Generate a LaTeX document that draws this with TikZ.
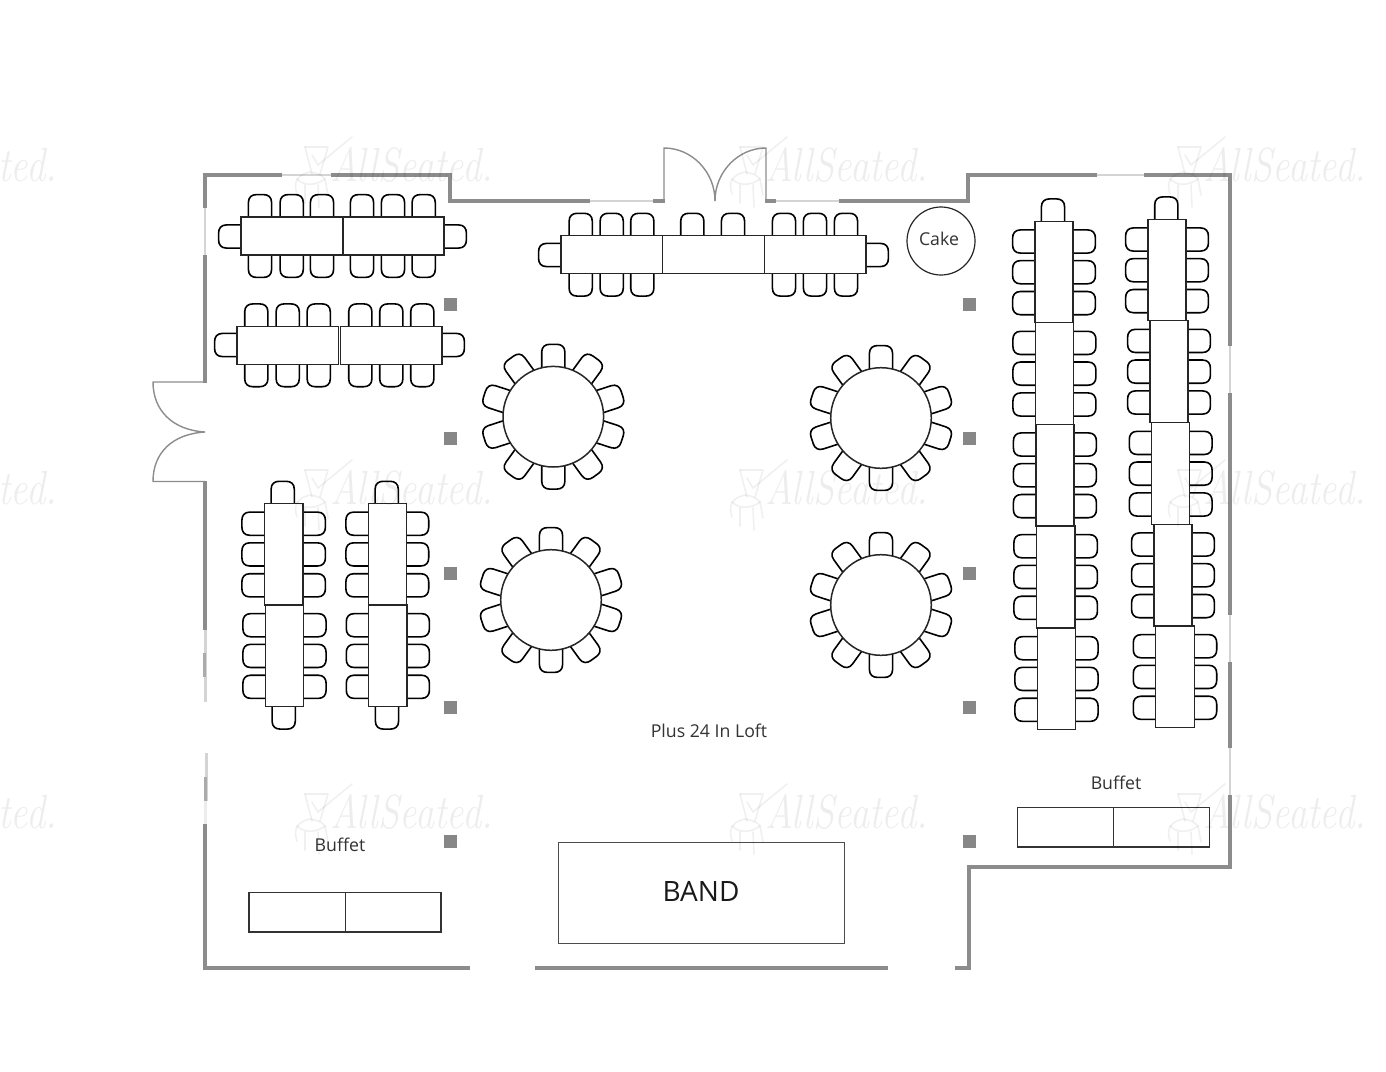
\documentclass[tikz,border=0pt]{standalone}
\usepackage{fontspec}
\newfontfamily\opensans{Open Sans}
\tikzset{
  x=1pt,y=-1pt,
  seatline/.style={draw=black,line width=1.6pt,fill=white,line join=round},
  tablebox/.style={draw=black!85,line width=1.5pt,fill=white},
  buffetbox/.style={draw=black!80,line width=1.3pt,fill=white},
  bandbox/.style={draw=black!70,line width=0.9pt,fill=white},
  wall/.style={draw=black!45,line width=3.4pt,line join=miter,line cap=butt},
  glass/.style={draw=black!17,line width=2.4pt,line cap=butt},
  midglass/.style={draw=black!33,line width=3pt,line cap=butt},
  doorline/.style={draw=black!45,line width=1.4pt,line join=miter},
  pillar/.style={fill=black!47,draw=none},
  label/.style={font=\opensans\fontsize{17.7}{20}\selectfont,text=black!80,inner sep=0pt},
  wmtext/.style={font=\itshape\fontsize{48}{50}\selectfont,text=black,opacity=0.07,text opacity=0.07,inner sep=0pt,xscale=0.8},
  wmline/.style={draw=black,opacity=0.06,line width=1.6pt,line cap=round,line join=round},
  pics/seat/.style={code={
    \draw[seatline] (-11.6,2) -- (-11.6,-14.5) .. controls (-11.6,-20) and (-8,-22.4) .. (-3.5,-22.4)
      -- (3.5,-22.4) .. controls (8,-22.4) and (11.6,-20) .. (11.6,-14.5) -- (11.6,2);
  }},
  pics/logo/.style={code={
    \draw[wmline] (10,10) -- (33,10) -- (25,37);
    \draw[wmline] (10,10) -- (17,37);
    \draw[wmline] (17,18) -- (23,28) -- (57,0);
    \draw[wmline] (2,57) .. controls (-2,45) and (2,38) .. (15,35) .. controls (22,36) and (27,38) .. (30,42) -- (33,58);
    \draw[wmline] (2,42) .. controls (10,50) and (22,48) .. (30,42);
    \draw[wmline] (10,48) -- (10,66);
    \draw[wmline] (23,48) -- (24,70);
  }},
}
\newcommand\Tbl[4]{\draw[tablebox] (#1,#2) rectangle (#3,#4);}
\newcommand\UpDown[3]{\pic at (#1,#2) {seat};\pic[rotate=180] at (#1,#3) {seat};}
\newcommand\SideSeats[3]{%
  \foreach \dy in {20.2,50.9,81.8}{
    \pic[rotate=90] at (#1,#3+\dy) {seat};
    \pic[rotate=-90] at (#2,#3+\dy) {seat};
  }}
\newcommand\RoundTbl[2]{%
  \begin{scope}[shift={(#1,#2)}]
    \foreach \a in {90,54,18,-18,-54,-90,-126,-162,162,126}{
      \pic[rotate=\a-90] at ({50*cos(\a)},{-50*sin(\a)}) {seat};
    }
    \draw[tablebox] (0,0) circle[radius=50.3];
  \end{scope}}
\begin{document}
\begin{tikzpicture}
\path[use as bounding box,fill=white] (0,0) rectangle (1386,1071);

% ---- walls
\draw[wall] (282,175) -- (205,175) -- (205,208);
\draw[glass] (205,208) -- (205,255);
\draw[wall] (205,255) -- (205,383);
\draw[glass] (282,175) -- (330.5,175);
\draw[wall] (330.5,175) -- (450,175) -- (450,201) -- (590,201);
\draw[glass] (590,201) -- (653,201);
\draw[wall] (653,201) -- (665,201);
\draw[wall] (765,201) -- (775.5,201);
\draw[glass] (775.5,201) -- (839,201);
\draw[wall] (839,201) -- (968,201) -- (968,175) -- (1097,175);
\draw[glass] (1097,175) -- (1144,175);
\draw[wall] (1144,175) -- (1230,175) -- (1230,346);
\draw[glass] (1230,346) -- (1230,393);
\draw[wall] (1230,393) -- (1230,615);
\draw[glass] (1230,615) -- (1230,661.7);
\draw[wall] (1230,661.7) -- (1230,747.7);
\draw[glass] (1230,747.7) -- (1230,795);
\draw[wall] (1230,795) -- (1230,867) -- (969,867) -- (969,968) -- (955,968);
\draw[wall] (535,968) -- (888,968);
\draw[wall] (470,968) -- (205,968) -- (205,824);
\draw[wall] (205,481) -- (205,630);
\draw[glass] (205.5,630) -- (205.5,702);
\draw[midglass] (204.5,653) -- (204.5,677);
\draw[glass] (206.5,753) -- (206.5,801);
\draw[midglass] (205,777) -- (205,801);
\draw[glass,draw=black!7] (205.5,801) -- (205.5,824);

% ---- doors
\draw[doorline] (205,382) -- (153,382) .. controls (153,410) and (172,430) .. (205,432)
  .. controls (172,434) and (153,453) .. (153,481.5) -- (205,481.5);
\draw[doorline] (664,201) -- (664,148) .. controls (692,148) and (715,172) .. (715,201);
\draw[doorline] (766,201) -- (766,148) .. controls (738,148) and (715,172) .. (715,201);

% ---- pillars
\foreach \px in {450,969}{
  \foreach \py in {304,438,573,707,841}{
    \fill[pillar] (\px-6.5,\py-6.5) rectangle (\px+6.5,\py+6.5);
  }}

% ---- top-left long tables
\foreach \sx in {260,291.7,322,362,393,423.7}{\UpDown{\sx}{217}{255}}
\pic[rotate=90] at (241,236.5) {seat};
\pic[rotate=-90] at (444,236.5) {seat};
\Tbl{241}{217}{343}{255}\Tbl{343}{217}{444}{255}

\foreach \sx in {256.3,287.7,318.7,360.3,391.3,422.3}{\UpDown{\sx}{326.3}{364.3}}
\pic[rotate=90] at (237,345) {seat};
\pic[rotate=-90] at (442,345) {seat};
\Tbl{237}{326.3}{338.6}{364.3}\Tbl{340.3}{326.3}{442}{364.3}

% ---- head table
\foreach \sx in {580.7,611.7,642.3,784,815,846}{\UpDown{\sx}{235.7}{273.7}}
\pic at (692.3,235.7) {seat};
\pic at (733,235.7) {seat};
\pic[rotate=90] at (561,255) {seat};
\pic[rotate=-90] at (866,255) {seat};
\Tbl{561}{235.7}{662.7}{273.7}\Tbl{662.7}{235.7}{764.7}{273.7}\Tbl{764.7}{235.7}{866}{273.7}

% ---- round tables
\RoundTbl{553.3}{416.7}
\RoundTbl{551}{600}
\RoundTbl{881}{418}
\RoundTbl{881}{605}

% ---- lower-left columns
\pic at (282.7,503.7) {seat};
\pic[rotate=180] at (283.7,706.7) {seat};
\SideSeats{264.3}{303}{503.5}
\SideSeats{265.3}{303.7}{605}
\Tbl{264.3}{503.7}{303}{605}\Tbl{265.3}{605}{303.7}{706.7}
\pic at (386.7,503.7) {seat};
\pic[rotate=180] at (387,706.7) {seat};
\SideSeats{368.3}{406.3}{503.5}
\SideSeats{368.7}{407}{605}
\Tbl{368.3}{503.7}{406.3}{605}\Tbl{368.7}{605}{407}{706.7}

% ---- right column A
\pic at (1053,221.3) {seat};
\SideSeats{1035}{1073}{221.3}
\SideSeats{1035.3}{1073.5}{322.7}
\SideSeats{1035.8}{1074}{424.3}
\SideSeats{1036.3}{1075}{526}
\SideSeats{1037.3}{1075.7}{628}
\Tbl{1035}{221.3}{1073}{322.7}\Tbl{1035.3}{322.7}{1073.5}{424.3}
\Tbl{1035.8}{424.3}{1074}{526}\Tbl{1036.3}{526}{1075}{628}\Tbl{1037.3}{628}{1075.7}{729.3}

% ---- right column B
\pic at (1166.3,219.3) {seat};
\SideSeats{1148}{1186}{219.3}
\SideSeats{1150}{1188}{320.7}
\SideSeats{1151.7}{1189.7}{422.7}
\SideSeats{1154}{1192}{524.3}
\SideSeats{1155.7}{1194.3}{626}
\Tbl{1148}{219.3}{1186}{320.7}\Tbl{1150}{320.7}{1188}{422.7}
\Tbl{1151.7}{422.7}{1189.7}{524.3}\Tbl{1154}{524.3}{1192}{626}\Tbl{1155.7}{626}{1194.3}{727.3}

% ---- cake, band, buffets
\draw[tablebox,line width=1.2pt] (941,241) circle[radius=34];
\node[label] (cake) at (939,239) {Cake};
\draw[bandbox] (558,842) rectangle (844,943);
\node[label,font=\opensans\fontsize{28}{32}\selectfont,text=black!90] (band) at (701,891) {BAND};
\draw[buffetbox] (249,892.3) rectangle (345.3,932);
\draw[buffetbox] (345.3,892.3) rectangle (441,932);
\node[label] (buffetL) at (340,845) {Buffet};
\draw[buffetbox] (1017.3,807.7) rectangle (1113.7,847);
\draw[buffetbox] (1113.7,807.7) rectangle (1209.7,847);
\node[label] (buffetR) at (1116,783) {Buffet};
\node[label] (loft) at (709,731) {Plus 24 In Loft};

% ---- watermark tiles
\begin{scope}
  \clip (0,0) rectangle (1386,1071);
  \foreach \wx [count=\i] in {-141,295,730,1168}{
    \foreach \wy [count=\j] in {137,460,784}{
      \pic at (\wx,\wy) {logo};
      \node[wmtext,anchor=base east] (wm\i\j) at (\wx+198,\wy+44) {AllSeated.};
    }}
\end{scope}
\end{tikzpicture}
\end{document}
